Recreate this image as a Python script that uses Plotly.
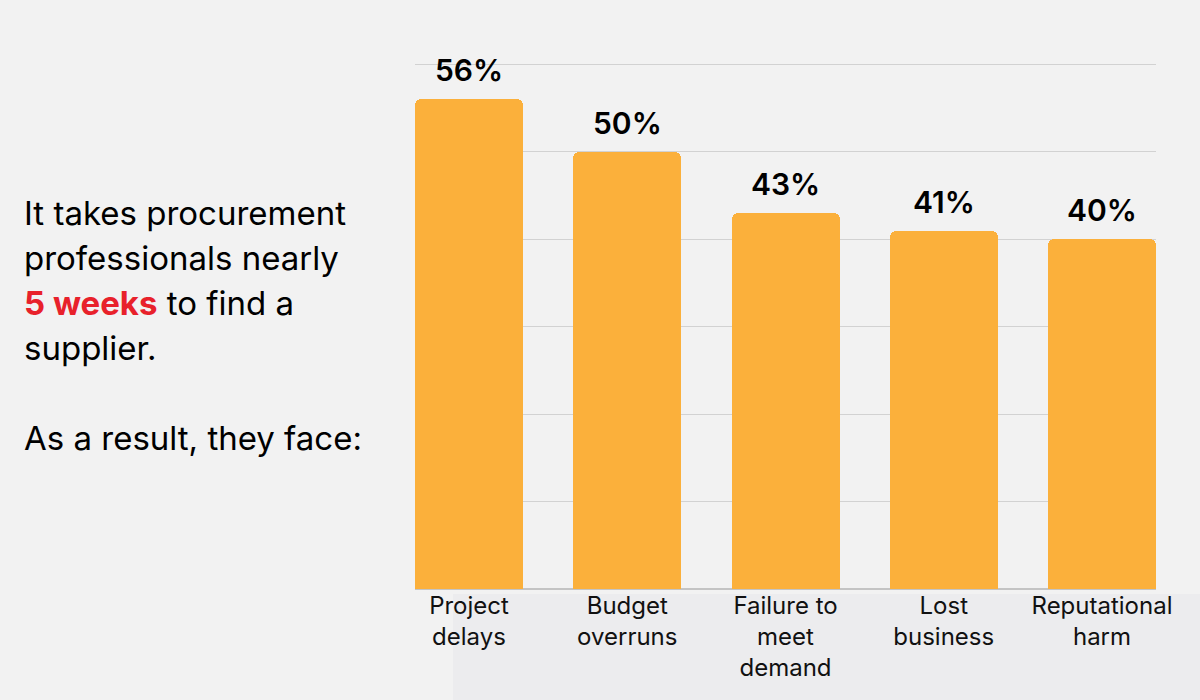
import plotly.graph_objects as go

categories = ["Project delays", "Budget overruns", "Failure to meet demand", "Lost business", "Reputational harm"]
tick_labels = ["Project<br>delays", "Budget<br>overruns", "Failure to<br>meet<br>demand", "Lost<br>business", "Reputational<br>harm"]
values = [56, 50, 43, 41, 40]
value_labels = ["56%", "50%", "43%", "41%", "40%"]

intro_lines = [
    "It takes procurement",
    "professionals nearly",
    "<b><span style='color:#e8212b'>5 weeks</span></b> to find a",
    "supplier.",
    "",
    "As a result, they face:",
]

FONT = "Inter"
BG = "#f2f2f2"

fig = go.Figure()
fig.add_trace(go.Bar(
    x=list(range(len(categories))),
    y=values,
    width=0.6825,
    marker=dict(color="#fbb03b", line=dict(width=0), cornerradius=6),
    hoverinfo="skip",
))

# plot area pixels
L, R, T, B = 415, 44, 61, 111
W = 1200 - L - R
H = 700 - T - B

annotations = []
for i, (v, lab) in enumerate(zip(values, value_labels)):
    annotations.append(dict(
        x=i, y=v, xref="x", yref="y", text=lab, showarrow=False,
        yanchor="bottom", yshift=9,
        font=dict(family=FONT, size=30, color="#000000", weight=600),
    ))

line_y = [213, 258, 303, 348, None, 438]
for txt, yp in zip(intro_lines, line_y):
    if yp is None:
        continue
    annotations.append(dict(
        x=(22 - L) / W, y=(700 - B - yp) / H, xref="paper", yref="paper",
        text=txt, showarrow=False, xanchor="left", yanchor="middle",
        font=dict(family=FONT, size=33, color="#000000"),
    ))

fig.update_layout(
    width=1200, height=700,
    paper_bgcolor=BG, plot_bgcolor=BG,
    margin=dict(l=L, r=R, t=T, b=B, pad=0),
    showlegend=False,
    bargap=0,
    annotations=annotations,
    shapes=[dict(type="rect", xref="paper", yref="paper",
                 x0=(453 - L) / W, x1=(1200 - L) / W,
                 y0=(700 - B - 594) / H, y1=-B / H - 0.01,
                 fillcolor="#ececee", line=dict(width=0), layer="below")],
    xaxis=dict(
        range=[-0.3412, 4.3412],
        tickvals=list(range(len(categories))),
        ticktext=tick_labels,
        tickfont=dict(family=FONT, size=24, color="#111111"),
        showgrid=False, zeroline=False, showline=False,
        ticks="", ticklen=0,
    ),
    yaxis=dict(
        range=[0, 60.4], tickvals=[10, 20, 30, 40, 50, 60],
        showticklabels=False, showgrid=True,
        gridcolor="#d2d2d2", gridwidth=1,
        zeroline=True, zerolinecolor="#c4c4c4", zerolinewidth=1.5,
        showline=False, ticks="",
    ),
)

fig.write_html("out.html")
